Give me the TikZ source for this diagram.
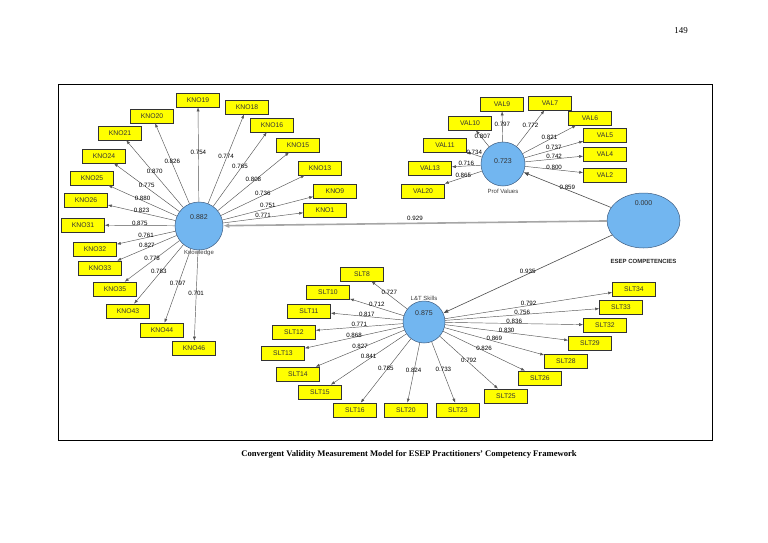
\documentclass[tikz,border=0pt]{standalone}
\usepackage{fontspec}
\setmainfont{Liberation Serif}
\setsansfont{Liberation Sans}
\usetikzlibrary{arrows.meta,positioning,shapes.geometric}
\definecolor{indy}{HTML}{FFFF00}
\definecolor{lat}{HTML}{72B6F0}
\definecolor{latb}{HTML}{3E5C80}
\definecolor{edge}{HTML}{555555}

\begin{document}
\begin{tikzpicture}[x=1pt, y=-1pt, font=\sffamily,
  ind/.style={draw=black!80, line width=0.6pt, fill=indy, minimum width=43pt, minimum height=14pt, inner sep=0pt, font=\sffamily\fontsize{6.8}{7}\selectfont, text=black!80},
  lv/.style={circle, draw=latb, line width=0.5pt, fill=lat, minimum size=#1, inner sep=0pt},
  val/.style={font=\sffamily\fontsize{7}{7}\selectfont, text=black!80, inner sep=0pt},
  nm/.style={font=\sffamily\fontsize{6}{7}\selectfont, text=black!75, inner sep=0pt},
  ld/.style={-{Latex[length=4pt,width=3pt]}, line width=0.45pt, draw=edge},
  sp/.style={-{Latex[length=5pt,width=4pt]}, line width=0.6pt, draw=black!70},
  lab/.style={font=\sffamily\fontsize{6.2}{7}\selectfont, text=black, inner sep=0pt, yshift=2.5pt}]

\useasboundingbox (0,0) rectangle (768,543);
\fill[white] (0,0) rectangle (768,543);
\node[font=\rmfamily\fontsize{9}{10}\selectfont] (page) at (681,31) {149};
\draw[line width=0.8pt] (58,84) rectangle (712,440);

% ---- latent variables
\node[lv=48pt] (know) at (199,226) {};
\node[val] (knowR) at ([yshift=9pt]know.center) {0.882};
\node[nm, below=0pt of know] (knowL) {Knowledge};
\node[lv=44pt] (prof) at (503,164) {};
\node[val] (profR) at ([yshift=3pt]prof.center) {0.723};
\node[nm, below=3pt of prof] (profL) {Prof Values};
\node[lv=42pt] (lts) at (424,322) {};
\node[val] (ltsR) at ([yshift=9pt]lts.center) {0.875};
\node[nm, above=0pt of lts] (ltsL) {L\&T Skills};
\node[ellipse, draw=latb, line width=0.5pt, fill=lat, minimum width=73pt, minimum height=55pt, inner sep=0pt] (esep) at (643.5,220.5) {};
\node[val] (esepR) at ([yshift=17pt]esep.center) {0.000};
\node[nm, font=\sffamily\bfseries\fontsize{6}{7}\selectfont, text=black!85, below=11pt of esep] (esepL) {ESEP COMPETENCIES};

% ---- second order paths
\draw[-{Latex[length=6pt,width=5pt]}, line width=1.6pt, draw=black!35] (esep) -- node[lab, yshift=2pt] {0.929} (know);
\draw[sp] (esep) -- node[lab] {0.859} (prof);
\draw[sp] (esep) -- node[lab] {0.935} (lts);

% ---- Knowledge indicators
\node[ind] (kno19) at (198,100) {KNO19};
\node[ind] (kno20) at (152,116) {KNO20};
\node[ind] (kno21) at (120,133) {KNO21};
\node[ind] (kno24) at (104,156) {KNO24};
\node[ind] (kno25) at (92,178) {KNO25};
\node[ind] (kno26) at (86,200) {KNO26};
\node[ind] (kno31) at (83,225) {KNO31};
\node[ind] (kno32) at (95,249) {KNO32};
\node[ind] (kno33) at (100,268) {KNO33};
\node[ind] (kno35) at (115,289) {KNO35};
\node[ind] (kno43) at (128,311) {KNO43};
\node[ind] (kno44) at (162,330) {KNO44};
\node[ind] (kno46) at (194,348) {KNO46};
\node[ind] (kno18) at (247,107) {KNO18};
\node[ind] (kno16) at (272,125) {KNO16};
\node[ind] (kno15) at (298,145) {KNO15};
\node[ind] (kno13) at (320,168) {KNO13};
\node[ind] (kno9) at (335,191) {KNO9};
\node[ind] (kno1) at (325,210) {KNO1};
\draw[ld] (know) -- node[lab] {0.754} (kno19);
\draw[ld] (know) -- node[lab] {0.826} (kno20);
\draw[ld] (know) -- node[lab] {0.870} (kno21);
\draw[ld] (know) -- node[lab] {0.775} (kno24);
\draw[ld] (know) -- node[lab] {0.880} (kno25);
\draw[ld] (know) -- node[lab] {0.823} (kno26);
\draw[ld] (know) -- node[lab] {0.875} (kno31);
\draw[ld] (know) -- node[lab] {0.761} (kno32);
\draw[ld] (know) -- node[lab] {0.827} (kno33);
\draw[ld] (know) -- node[lab] {0.778} (kno35);
\draw[ld] (know) -- node[lab] {0.783} (kno43);
\draw[ld] (know) -- node[lab] {0.797} (kno44);
\draw[ld] (know) -- node[lab] {0.701} (kno46);
\draw[ld] (know) -- node[lab] {0.774} (kno18);
\draw[ld] (know) -- node[lab] {0.765} (kno16);
\draw[ld] (know) -- node[lab] {0.808} (kno15);
\draw[ld] (know) -- node[lab] {0.736} (kno13);
\draw[ld] (know) -- node[lab] {0.751} (kno9);
\draw[ld] (know) -- node[lab] {0.771} (kno1);

% ---- Prof Values indicators
\node[ind] (val9) at (502,104) {VAL9};
\node[ind] (val7) at (550,103) {VAL7};
\node[ind] (val10) at (470,123) {VAL10};
\node[ind] (val6) at (590,118) {VAL6};
\node[ind] (val5) at (605,135) {VAL5};
\node[ind] (val4) at (605,154) {VAL4};
\node[ind] (val2) at (605,175) {VAL2};
\node[ind] (val11) at (445,145) {VAL11};
\node[ind] (val13) at (430,168) {VAL13};
\node[ind] (val20) at (423,191) {VAL20};
\draw[ld] (prof) -- node[lab] {0.797} (val9);
\draw[ld] (prof) -- node[lab] {0.772} (val7);
\draw[ld] (prof) -- node[lab] {0.807} (val10);
\draw[ld] (prof) -- node[lab] {0.821} (val6);
\draw[ld] (prof) -- node[lab] {0.737} (val5);
\draw[ld] (prof) -- node[lab] {0.742} (val4);
\draw[ld] (prof) -- node[lab] {0.800} (val2);
\draw[ld] (prof) -- node[lab] {0.734} (val11);
\draw[ld] (prof) -- node[lab] {0.716} (val13);
\draw[ld] (prof) -- node[lab] {0.865} (val20);

% ---- L&T Skills indicators
\node[ind] (slt8) at (362,274) {SLT8};
\node[ind] (slt10) at (328,292) {SLT10};
\node[ind] (slt11) at (309,311) {SLT11};
\node[ind] (slt12) at (294,332) {SLT12};
\node[ind] (slt13) at (283,353) {SLT13};
\node[ind] (slt14) at (298,374) {SLT14};
\node[ind] (slt15) at (320,392) {SLT15};
\node[ind] (slt16) at (355,410) {SLT16};
\node[ind] (slt20) at (406,410) {SLT20};
\node[ind] (slt23) at (458,410) {SLT23};
\node[ind] (slt25) at (506,396) {SLT25};
\node[ind] (slt26) at (540,378) {SLT26};
\node[ind] (slt28) at (566,361) {SLT28};
\node[ind] (slt29) at (590,343) {SLT29};
\node[ind] (slt32) at (605,325) {SLT32};
\node[ind] (slt33) at (621,307) {SLT33};
\node[ind] (slt34) at (634,289) {SLT34};
\draw[ld] (lts) -- node[lab] {0.727} (slt8);
\draw[ld] (lts) -- node[lab] {0.712} (slt10);
\draw[ld] (lts) -- node[lab] {0.817} (slt11);
\draw[ld] (lts) -- node[lab] {0.771} (slt12);
\draw[ld] (lts) -- node[lab] {0.868} (slt13);
\draw[ld] (lts) -- node[lab] {0.827} (slt14);
\draw[ld] (lts) -- node[lab] {0.841} (slt15);
\draw[ld] (lts) -- node[lab] {0.785} (slt16);
\draw[ld] (lts) -- node[lab] {0.824} (slt20);
\draw[ld] (lts) -- node[lab] {0.733} (slt23);
\draw[ld] (lts) -- node[lab] {0.792} (slt25);
\draw[ld] (lts) -- node[lab] {0.826} (slt26);
\draw[ld] (lts) -- node[lab] {0.869} (slt28);
\draw[ld] (lts) -- node[lab] {0.830} (slt29);
\draw[ld] (lts) -- node[lab] {0.836} (slt32);
\draw[ld] (lts) -- node[lab] {0.756} (slt33);
\draw[ld] (lts) -- node[lab] {0.792} (slt34);

% ---- caption
\node[font=\rmfamily\bfseries\fontsize{8.6}{9}\selectfont] (caption) at (409,454)
  {Convergent Validity Measurement Model for ESEP Practitioners’ Competency Framework};
\end{tikzpicture}
\end{document}
